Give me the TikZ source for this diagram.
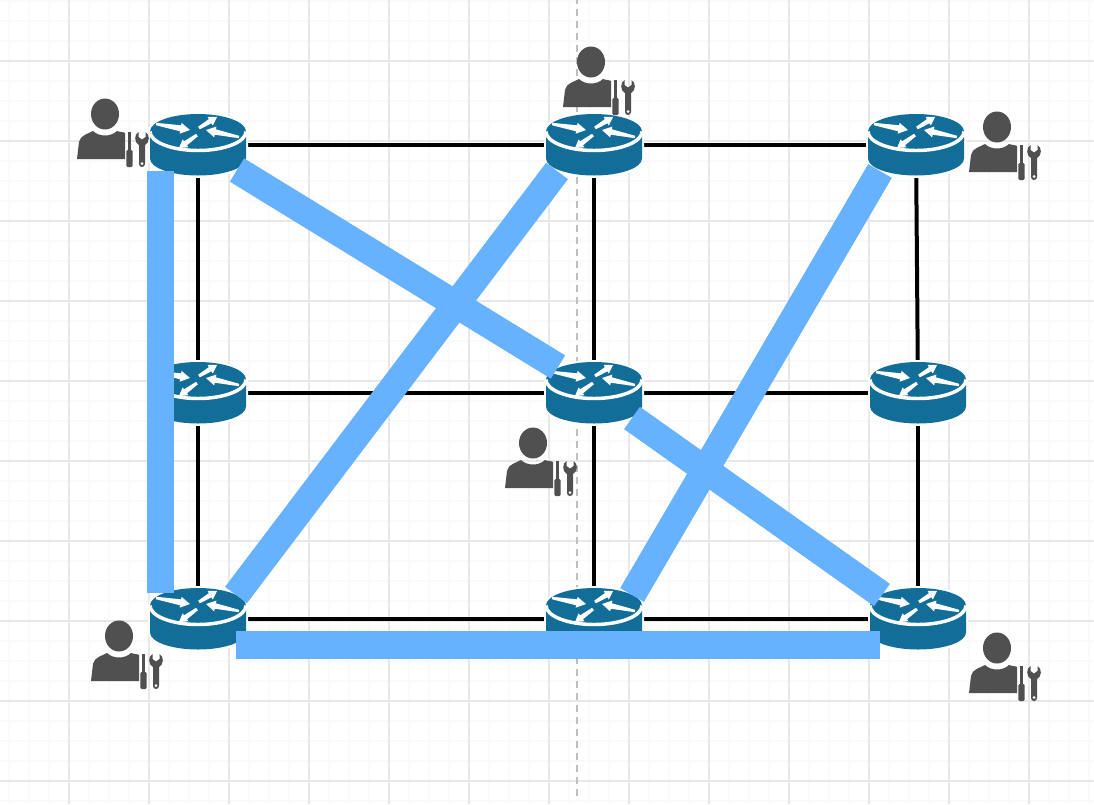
\documentclass[tikz,border=0pt]{standalone}
\definecolor{routerblue}{HTML}{126D99}
\definecolor{barblue}{HTML}{66B2FF}
\definecolor{admingray}{HTML}{505050}
\definecolor{gridminor}{HTML}{FAFAFA}
\definecolor{gridmajor}{HTML}{E8E8E8}
\tikzset{
  gridminorline/.style={draw=gridminor,line width=1.5pt},
  gridmajorline/.style={draw=gridmajor,line width=1.5pt},
  link/.style={draw=black,line width=3pt},
  bar/.style={draw=barblue,line width=20.5pt},
  routerbox/.style={rectangle,minimum width=73.5pt,minimum height=48pt,inner sep=0pt,outer sep=0pt},
  router/.pic={
    \fill[white] (-50,-14) -- (-50,14) arc[start angle=180,end angle=0,x radius=50,y radius=19] -- (50,-14) arc[start angle=0,end angle=-180,x radius=50,y radius=19] -- cycle;
    \fill[routerblue] (-48,-13.5) -- (-48,13.5) arc[start angle=180,end angle=0,x radius=48,y radius=17] -- (48,-13.5) arc[start angle=0,end angle=-180,x radius=48,y radius=17.5] -- cycle;
    \draw[white,line width=2.6pt] (-48,-13.5) arc[start angle=180,end angle=0,x radius=48,y radius=19];
    \fill[white] (-42.2,-19.8) -- (-41.8,-22.2) -- (-16.9,-19.7) -- (-16.4,-22.1) -- (-8,-15) -- (-18.4,-11.3) -- (-17.9,-13.7) -- cycle;
    \fill[white] (1.8,-15.7) -- (0.2,-18.3) -- (10.9,-25.9) -- (9.6,-28.1) -- (19,-28) -- (14.8,-19.5) -- (13.5,-21.7) -- cycle;
    \fill[white] (41.2,-9.2) -- (40.8,-6.8) -- (16.7,-10.3) -- (16.2,-7.6) -- (8,-15) -- (18.4,-18.4) -- (17.9,-15.7) -- cycle;
    \fill[white] (-0.1,-8.8) -- (-1.9,-11.2) -- (-14,-3.7) -- (-15.4,-5.7) -- (-19,3) -- (-9.6,2.3) -- (-11,0.3) -- cycle;
  },
  admin/.pic={
    \fill[admingray] (0,0) ellipse[x radius=14,y radius=15.5];
    \fill[admingray] (-28,45) -- (-26,28) .. controls (-25,21) and (-16,19.5) .. (-12,17) .. controls (-6,23) and (6,23) .. (12,17) .. controls (14,18) and (19,18) .. (20,19) -- (20,45) -- cycle;
    \fill[admingray] (23.3,18) rectangle (25.7,36);
    \fill[admingray,rounded corners=1pt] (21.3,36) rectangle (27.7,53);
    \fill[admingray] (33.5,18) .. controls (29,20) and (29,29) .. (34,31) -- (34,50) .. controls (34,54) and (40,54) .. (40,50) -- (40,31) .. controls (45,29) and (45,20) .. (40.5,18) -- (40.5,23) -- (37,25.5) -- (33.5,23) -- cycle;
    \fill[white] (37,49.5) circle[radius=1.5];
  }
}
\begin{document}
\begin{tikzpicture}[x=0.75pt,y=-0.75pt]
\useasboundingbox (0,0) rectangle (1094,804);
\fill[white] (0,0) rectangle (1094,804);
\foreach \x in {8.5,28.5,...,1089} \draw[gridminorline] (\x,0) -- (\x,804);
\foreach \y in {0.5,20.5,...,801} \draw[gridminorline] (0,\y) -- (1094,\y);
\foreach \x in {68.5,148.5,...,1089} \draw[gridmajorline] (\x,0) -- (\x,804);
\foreach \y in {60.5,140.5,...,781} \draw[gridmajorline] (0,\y) -- (1094,\y);
\coordinate (guideA) at (577,-3);
\coordinate (guideB) at (577,799);
\draw[draw=black!25,line width=1.5pt,dash pattern=on 5.25pt off 3.75pt] (guideA) -- (guideB);
\node[routerbox] (r11) at (198,145) {};
\node[routerbox] (r12) at (594,145) {};
\node[routerbox] (r13) at (916,145) {};
\node[routerbox] (r21) at (198,393) {};
\node[routerbox] (r22) at (594,393) {};
\node[routerbox] (r23) at (918,393) {};
\node[routerbox] (r31) at (198,619) {};
\node[routerbox] (r32) at (594,619) {};
\node[routerbox] (r33) at (918,619) {};
\draw[link] (r11) -- (r12);
\draw[link] (r12) -- (r13);
\draw[link] (r21) -- (r22);
\draw[link] (r22) -- (r23);
\draw[link] (r31) -- (r32);
\draw[link] (r32) -- (r33);
\draw[link] (r11) -- (r21);
\draw[link] (r21) -- (r31);
\draw[link] (r12) -- (r22);
\draw[link] (r22) -- (r32);
\draw[link] (r13) -- (r23);
\draw[link] (r23) -- (r33);
\foreach \n in {r11,r12,r13,r21,r22,r23,r31,r32,r33} \pic at (\n) {router};
\pic at (105,114) {admin};
\pic at (591,62) {admin};
\pic at (997,127) {admin};
\pic at (533,443) {admin};
\pic at (119,636) {admin};
\pic at (997,648) {admin};
\coordinate (a1) at (160.5,171); \coordinate (a2) at (160.5,593);
\coordinate (b1) at (236,645); \coordinate (b2) at (880,645);
\coordinate (c1) at (237,170); \coordinate (c2) at (558,367);
\coordinate (d1) at (557,171); \coordinate (d2) at (236,595);
\coordinate (e1) at (880,171); \coordinate (e2) at (632,595);
\coordinate (f1) at (632,418); \coordinate (f2) at (882,595);
\draw[bar] (a1) -- (a2);
\draw[bar] (b1) -- (b2);
\draw[bar] (c1) -- (c2);
\draw[bar] (d1) -- (d2);
\draw[bar] (e1) -- (e2);
\draw[bar] (f1) -- (f2);
\end{tikzpicture}
\end{document}
